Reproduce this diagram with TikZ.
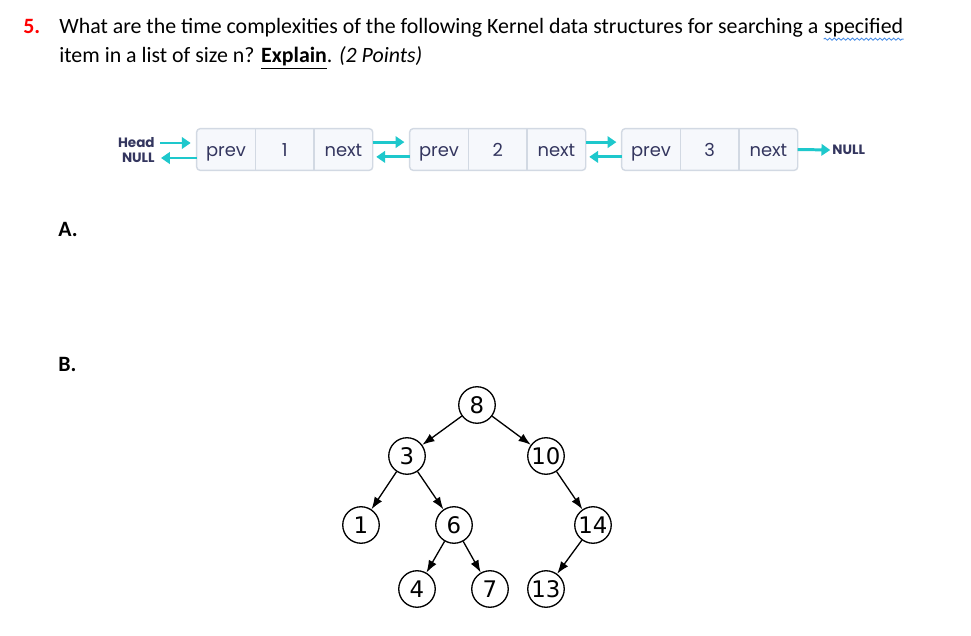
\documentclass[tikz,border=0pt]{standalone}
\usepackage{fontspec}
\setmainfont{Carlito}
\newfontfamily\listfont{Poppins}
\newfontfamily\treefont{DejaVu Sans}
\usetikzlibrary{arrows.meta,positioning,decorations.pathmorphing}

\definecolor{listcyan}{HTML}{1EC8CC}
\definecolor{listnavy}{HTML}{34365F}
\definecolor{cellfill}{HTML}{F6F8FC}
\definecolor{cellline}{HTML}{D2D9E3}
\definecolor{qred}{HTML}{FF0000}
\definecolor{spellblue}{HTML}{4A8FE7}

\begin{document}
\begin{tikzpicture}[x=0.02cm,y=-0.02cm,
    qtext/.style={anchor=base west,inner sep=0pt,font=\fontsize{12.45}{14}\selectfont},
    cell/.style={fill=cellfill,minimum width=1.16cm,minimum height=0.82cm,inner sep=0pt,
        text height=9pt,text depth=1.6pt,
        text=listnavy,font=\listfont\fontsize{10.2}{11}\selectfont},
    rec/.style={draw=cellline,line width=0.8pt,rounded corners=2pt},
    divider/.style={draw=cellline,line width=0.8pt},
    endlabel/.style={inner sep=0pt,text=listnavy,font=\listfont\bfseries\fontsize{7.7}{9}\selectfont},
    larr/.style={listcyan,line width=1.7pt,-{Triangle[length=5pt,width=6.5pt]}},
    tnode/.style={circle,draw,line width=0.75pt,minimum size=0.73cm,inner sep=0pt,
        font=\treefont\fontsize{13}{13}\selectfont},
    tarr/.style={line width=0.75pt,-{Latex[length=7pt,width=5pt]}}]

        % Page area
        \fill[white] (0,0) rectangle (971,636);

        % Question
        \node[qtext,text=qred,font=\bfseries\fontsize{12.45}{14}\selectfont] (qnum) at (23,33) {5.};
        \node[qtext] (q1) at (59,33) {What are the time complexities of the following Kernel data structures for searching a};
        \node[qtext] (spec) at ([xshift=2.8pt]q1.base east) {specified};
        \draw[spellblue,line width=0.5pt,decorate,decoration={snake,amplitude=0.6pt,segment length=2.6pt}]
            ([yshift=-3.5pt]spec.base west) -- ([yshift=-3.5pt]spec.base east);
        \node[qtext] (q2) at (59,62) {item in a list of size n? \textbf{\underline{Explain}}. \textit{(2 Points)}};

        % Parts
        \node[qtext,font=\bfseries\fontsize{12.45}{14}\selectfont] (partA) at (58,236) {A.};
        \node[qtext,font=\bfseries\fontsize{12.45}{14}\selectfont] (partB) at (58,371) {B.};

        % Doubly linked list: records
        \node[cell] (p1) at (226,149.5) {prev};
        \node[cell,right=0pt of p1] (v1) {1};
        \node[cell,right=0pt of v1] (n1) {next};
        \node[cell] (p2) at (439,149.5) {prev};
        \node[cell,right=0pt of p2] (v2) {2};
        \node[cell,right=0pt of v2] (n2) {next};
        \node[cell] (p3) at (651,149.5) {prev};
        \node[cell,right=0pt of p3] (v3) {3};
        \node[cell,right=0pt of v3] (n3) {next};
        \foreach \r in {1,2,3}{
            \draw[divider] (p\r.north east) -- (p\r.south east);
            \draw[divider] (v\r.north east) -- (v\r.south east);
            \draw[rec] (p\r.north west) rectangle (n\r.south east);
        }

        % Ends of the list
        \node[endlabel,anchor=east] (head) at (155,143) {Head};
        \node[endlabel,anchor=east] (nullL) at (155,158) {NULL};
        \node[endlabel,anchor=west] (nullR) at (832,150) {NULL};

        % Links
        \draw[larr,shorten <=3pt,shorten >=3.4pt] (head.east) -- (head.east -| p1.west);
        \draw[larr,shorten <=0pt,shorten >=3.4pt] (nullL.east -| p1.west) -- (nullL.east);
        \draw[larr,shorten >=3pt] ([yshift=4.2pt]n1.east) -- ([yshift=4.2pt]p2.west);
        \draw[larr,shorten >=2pt] ([yshift=-4.2pt]p2.west) -- ([yshift=-4.2pt]n1.east);
        \draw[larr,shorten >=3pt] ([yshift=4.2pt]n2.east) -- ([yshift=4.2pt]p3.west);
        \draw[larr,shorten >=2pt] ([yshift=-4.2pt]p3.west) -- ([yshift=-4.2pt]n2.east);
        \draw[larr,shorten >=1pt] (n3.east) -- (nullR.west);

        % Binary search tree
        \node[tnode] (t8) at (477,405) {8};
        \node[tnode] (t3) at (407,456) {3};
        \node[tnode] (t10) at (546,456) {10};
        \node[tnode] (t1) at (361,525) {1};
        \node[tnode] (t6) at (454,525) {6};
        \node[tnode] (t14) at (593,525) {14};
        \node[tnode] (t4) at (417,589) {4};
        \node[tnode] (t7) at (490,589) {7};
        \node[tnode] (t13) at (546,589) {13};
        \draw[tarr] (t8) -- (t3);
        \draw[tarr] (t8) -- (t10);
        \draw[tarr] (t3) -- (t1);
        \draw[tarr] (t3) -- (t6);
        \draw[tarr] (t6) -- (t4);
        \draw[tarr] (t6) -- (t7);
        \draw[tarr] (t10) -- (t14);
        \draw[tarr] (t14) -- (t13);

    \end{tikzpicture}
\end{document}
